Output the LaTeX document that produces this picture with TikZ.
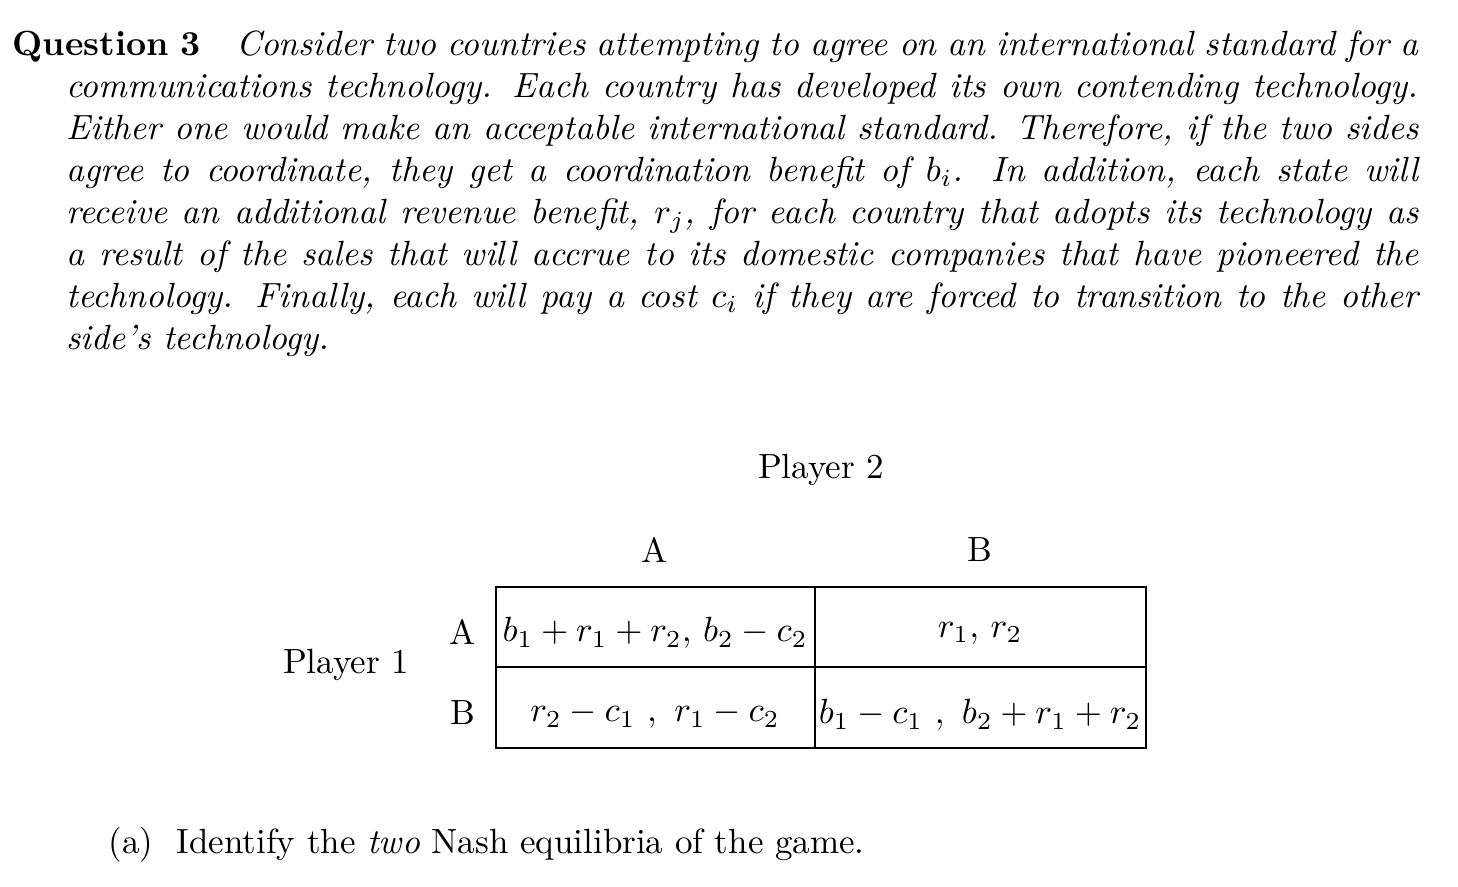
\documentclass[tikz,border=0pt]{standalone}
\begin{document}
\begin{tikzpicture}[x=0.2857pt,y=-0.2857pt,lbl/.style={inner sep=0pt}]
\useasboundingbox (0,0) rectangle (1458,886);
\node[lbl,anchor=north west,text width=401.7pt,align=justify] (para) at (12,30)
{\hangindent=15.4pt\hangafter=1\textbf{Question 3}\quad\itshape Consider two countries attempting to agree on an international standard for a communications technology. Each country has developed its own contending technology. Either one would make an acceptable international standard. Therefore, if the two sides agree to coordinate, they get a coordination benefit of $b_i$. In addition, each state will receive an additional revenue benefit, $r_j$, for each country that adopts its technology as a result of the sales that will accrue to its domestic companies that have pioneered the technology. Finally, each will pay a cost $c_i$ if they are forced to transition to the other side's technology.\par};
\draw[line width=0.4pt] (496,587) rectangle (1146,748);
\draw[line width=0.4pt] (815,587) -- (815,748);
\draw[line width=0.4pt] (496,667) -- (1146,667);
\node[lbl] (p2) at (821,470) {Player 2};
\node[lbl] (p1) at (346,665) {Player 1};
\node[lbl] (cA) at (655,550) {A};
\node[lbl] (cB) at (980,550) {B};
\node[lbl] (rA) at (463,632) {A};
\node[lbl] (rB) at (463,713) {B};
\node[lbl] (aa) at (655,633) {$b_1+r_1+r_2,\, b_2-c_2$};
\node[lbl] (ab) at (980,633) {$r_1,\, r_2$};
\node[lbl] (ba) at (655,715) {$r_2-c_1\ ,\ r_1-c_2$};
\node[lbl] (bb) at (980,715) {$b_1-c_1\ ,\ b_2+r_1+r_2$};
\node[lbl,anchor=west] (qa) at (108,845) {(a)\ \ Identify the \textit{two} Nash equilibria of the game.};
\end{tikzpicture}
\end{document}
